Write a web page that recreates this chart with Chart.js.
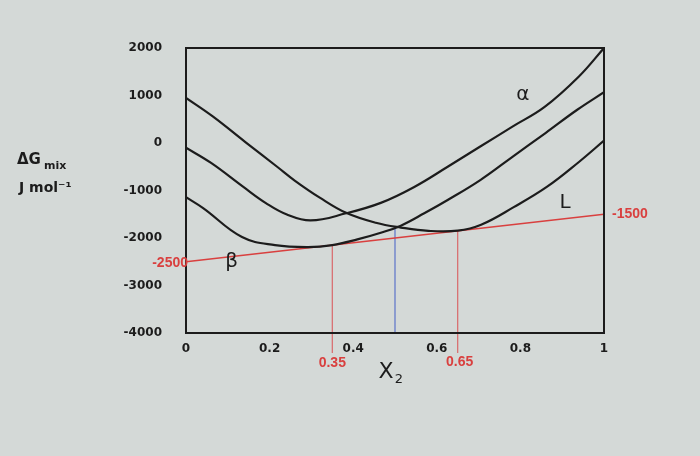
<!DOCTYPE html>
<html>
<head>
<meta charset="utf-8">
<script src="https://cdn.jsdelivr.net/npm/chart.js@4.4.1/dist/chart.umd.min.js"></script>
<style>
  html, body { margin: 0; padding: 0; background: #d4d9d7; }
  canvas { display: block; }
</style>
</head>
<body>
<canvas id="graph-gmix" width="700" height="456"></canvas>
<script>
// Ticks de los ejes
const xTicks = [0, 0.2, 0.4, 0.6, 0.8, 1];
const yTicks = [2000, 1000, 0, -1000, -2000, -3000, -4000];

// Curvas de energía libre de mezcla
const alphaX = [0, 0.06, 0.138, 0.192, 0.24, 0.298, 0.383, 0.466, 0.545, 0.626, 0.703, 0.78, 0.858, 0.94, 1];
const alphaY = [-100, -420, -930, -1270, -1500, -1630, -1480, -1260, -930, -500, -80, 340, 760, 1400, 2000];

const betaX = [0, 0.041, 0.134, 0.213, 0.292, 0.35, 0.41, 0.466, 0.514, 0.57, 0.626, 0.704, 0.781, 0.86, 0.936, 1];
const betaY = [-1140, -1370, -1980, -2150, -2190, -2150, -2030, -1890, -1740, -1480, -1200, -780, -290, 210, 700, 1070];

const liqX = [0, 0.064, 0.142, 0.218, 0.26, 0.32, 0.383, 0.454, 0.514, 0.58, 0.65, 0.706, 0.784, 0.864, 0.94, 1];
const liqY = [950, 560, 20, -500, -790, -1150, -1470, -1680, -1780, -1850, -1845, -1720, -1350, -920, -400, 50];

// Tangente común
const tangentX = [0, 1];
const tangentY = [-2500, -1500];

// Líneas verticales (composiciones)
const dropX = [0.35, 0.5, 0.65];
const dropTop = [-2150, -1770, -1850];
const dropBottom = [-4420, -4000, -4420];

// Nombres de las fases
const phaseNames = ["α", "β", "L"];
const phaseX = [0.806, 0.109, 0.907];
const phaseY = [1010, -2505, -1263];

const tinta = "#1c1c1c";
const rojo = "#d9403f";

function puntos(xs, ys) {
  return xs.map((x, i) => ({ x: x, y: ys[i] }));
}

function curva(xs, ys) {
  return {
    data: puntos(xs, ys),
    borderColor: tinta,
    borderWidth: 2.2,
    pointRadius: 0,
    tension: 0.4,
  };
}

const drops = dropX.map((x, i) => ({
  data: [{ x: x, y: dropBottom[i] }, { x: x, y: dropTop[i] }],
  borderColor: i === 1 ? "#5b72c9" : "#d9686a",
  borderWidth: 1.2,
  pointRadius: 0,
  clip: false,
}));

// Caja, textos y anotaciones en rojo
const dibujoPlugin = {
  id: "dibujo",
  afterDatasetsDraw(chart) {
    const ctx = chart.ctx;
    const area = chart.chartArea;
    const sx = chart.scales.x;
    const sy = chart.scales.y;
    ctx.save();

    ctx.strokeStyle = tinta;
    ctx.lineWidth = 2;
    ctx.strokeRect(area.left, area.top, area.right - area.left, area.bottom - area.top);

    // etiquetas rojas
    ctx.fillStyle = rojo;
    ctx.font = "bold 14px 'Liberation Sans'";
    ctx.textBaseline = "middle";
    ctx.textAlign = "right";
    ctx.fillText(String(tangentY[0]), sx.getPixelForValue(0) + 2, sy.getPixelForValue(tangentY[0]) + 1);
    ctx.textAlign = "left";
    ctx.fillText(String(tangentY[1]), sx.getPixelForValue(1) + 8, sy.getPixelForValue(tangentY[1]));
    ctx.textAlign = "center";
    ctx.fillText(String(dropX[0]), sx.getPixelForValue(dropX[0]), area.bottom + 30);
    ctx.fillText(String(dropX[2]), sx.getPixelForValue(dropX[2]) + 2, area.bottom + 29);

    // nombres de fases
    ctx.fillStyle = tinta;
    ctx.font = "20px 'DejaVu Sans'";
    phaseNames.forEach((n, i) => {
      ctx.fillText(n, sx.getPixelForValue(phaseX[i]), sy.getPixelForValue(phaseY[i]));
    });

    // título eje x
    ctx.font = "22px 'DejaVu Sans'";
    ctx.fillText("X", 386, 372);
    ctx.font = "13px 'DejaVu Sans'";
    ctx.fillText("2", 399, 380);

    // título eje y
    ctx.textAlign = "left";
    ctx.font = "bold 15px 'DejaVu Sans'";
    ctx.fillText("ΔG", 17, 160);
    ctx.font = "bold 11px 'DejaVu Sans'";
    ctx.fillText("mix", 44, 166);
    ctx.font = "bold 14px 'DejaVu Sans'";
    ctx.fillText("J mol⁻¹", 19, 188);

    ctx.restore();
  },
};

const miGrafico = new Chart(document.getElementById("graph-gmix"), {
  type: "line",
  data: {
    datasets: [
      curva(alphaX, alphaY),
      curva(betaX, betaY),
      curva(liqX, liqY),
      {
        data: puntos(tangentX, tangentY),
        borderColor: rojo,
        borderWidth: 1.6,
        pointRadius: 0,
        clip: false,
      },
      ...drops,
    ],
  },
  options: {
    responsive: false,
    animation: false,
    devicePixelRatio: 1,
    layout: { padding: { top: 48, right: 96, left: 0, bottom: 0 } },
    plugins: {
      legend: { display: false },
      tooltip: { enabled: false },
    },
    scales: {
      x: {
        type: "linear",
        min: 0,
        max: 1,
        grid: { display: false, drawTicks: false },
        border: { display: false },
        afterBuildTicks: (scale) => { scale.ticks = xTicks.map(v => ({ value: v })); },
        afterFit: (scale) => { scale.height = 123; },
        ticks: {
          color: tinta,
          padding: 9,
          font: { family: "DejaVu Sans", size: 12, weight: "bold" },
          callback: (v) => String(v),
        },
      },
      y: {
        type: "linear",
        min: -4000,
        max: 2000,
        grid: { display: false, drawTicks: false },
        border: { display: false },
        afterBuildTicks: (scale) => { scale.ticks = yTicks.map(v => ({ value: v })); },
        afterFit: (scale) => { scale.width = 186; },
        ticks: {
          color: tinta,
          padding: 24,
          font: { family: "DejaVu Sans", size: 12, weight: "bold" },
          callback: (v) => String(v),
        },
      },
    },
  },
  plugins: [dibujoPlugin],
});
</script>
</body>
</html>
